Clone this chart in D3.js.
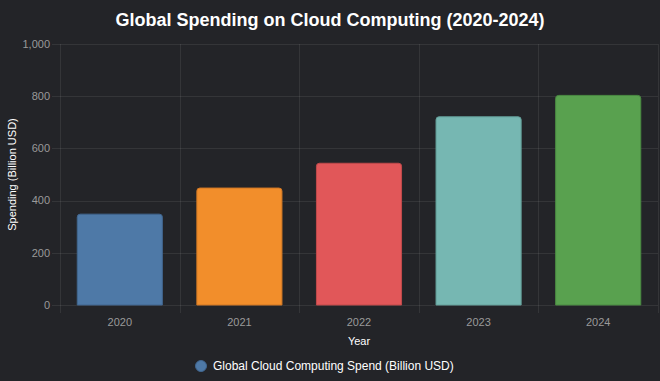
<!DOCTYPE html>
<html><head><meta charset="utf-8">
<script src="https://cdn.jsdelivr.net/npm/d3@7"></script>
<style>
html,body{margin:0;padding:0;background:#232428;}
svg{display:block;font-family:"Liberation Sans",Arial,Helvetica,sans-serif;}
</style></head>
<body>
<script>
const years = ["2020","2021","2022","2023","2024"];
const spending = [350, 450, 545, 723, 805];
const colors = ["#4e79a7","#f28e2b","#e15759","#76b7b2","#59a14f"];
const borderColors = ["#41668f","#cf7725","#c04a4b","#64a09b","#4a8a42"];
const yTicks = [0,200,400,600,800,1000];
const seriesName = "Global Cloud Computing Spend (Billion USD)";

const W=660,H=381;
const m={l:60,r:2,t:44,b:76};
const svg=d3.select("body").append("svg").attr("width",W).attr("height",H);
svg.append("rect").attr("width",W).attr("height",H).attr("fill","#232428");

const x=d3.scaleBand().domain(years).range([m.l,W-m.r]);
const y=d3.scaleLinear().domain([0,1000]).range([H-m.b,m.t]);

const grid="rgba(255,255,255,0.08)";
// horizontal grid
svg.append("g").selectAll("line").data(yTicks).join("line")
  .attr("x1",m.l-8).attr("x2",W-m.r).attr("y1",d=>Math.round(y(d))+0.5).attr("y2",d=>Math.round(y(d))+0.5)
  .attr("stroke",grid);
// vertical grid
const vx=years.map(d=>x(d)).concat([W-m.r]);
svg.append("g").selectAll("line").data(vx).join("line")
  .attr("x1",d=>Math.round(d)+0.5).attr("x2",d=>Math.round(d)+0.5).attr("y1",m.t).attr("y2",H-m.b+8)
  .attr("stroke",grid);

// y ticks
svg.append("g").selectAll("text").data(yTicks).join("text")
  .attr("x",m.l-10).attr("y",d=>y(d)).attr("dy","0.35em").attr("text-anchor","end")
  .attr("fill","#9a9a9a").attr("font-size",11).text(d=>d3.format(",")(d));
// x ticks
svg.append("g").selectAll("text").data(years).join("text")
  .attr("x",d=>x(d)+x.bandwidth()/2).attr("y",H-m.b+17).attr("dy","0.35em").attr("text-anchor","middle")
  .attr("fill","#9a9a9a").attr("font-size",11).text(d=>d);

// bars with rounded top
const bw=x.bandwidth()*0.72, r=3;
function barPath(x0,y0,w,h){
  return `M${x0},${y0+h}V${y0+r}Q${x0},${y0} ${x0+r},${y0}H${x0+w-r}Q${x0+w},${y0} ${x0+w},${y0+r}V${y0+h}Z`;
}
svg.append("g").selectAll("path").data(years).join("path")
  .attr("d",(d,i)=>{const x0=x(d)+(x.bandwidth()-bw)/2+0.5; const y0=y(spending[i])+0.5; return barPath(x0,y0,bw-1,y(0)-y0);})
  .attr("fill",(d,i)=>colors[i]).attr("stroke",(d,i)=>borderColors[i]).attr("stroke-width",1);

// title
svg.append("text").attr("x",W/2).attr("y",20).attr("dy","0.35em").attr("text-anchor","middle")
  .attr("fill","#ffffff").attr("font-size",18).attr("font-weight","bold").text("Global Spending on Cloud Computing (2020-2024)");
// axis titles
svg.append("text").attr("transform",`translate(12,${(m.t+H-m.b)/2}) rotate(-90)`).attr("dy","0.35em")
  .attr("text-anchor","middle").attr("fill","#ffffff").attr("font-size",11).text("Spending (Billion USD)");
svg.append("text").attr("x",(m.l+W-m.r)/2).attr("y",341).attr("dy","0.35em").attr("text-anchor","middle")
  .attr("fill","#ffffff").attr("font-size",11).text("Year");
// legend
svg.append("circle").attr("cx",201).attr("cy",366).attr("r",5.5).attr("fill",colors[0]).attr("stroke",borderColors[0]);
svg.append("text").attr("x",213).attr("y",366).attr("dy","0.35em").attr("fill","#ffffff").attr("font-size",12).text(seriesName);
</script>
</body></html>
